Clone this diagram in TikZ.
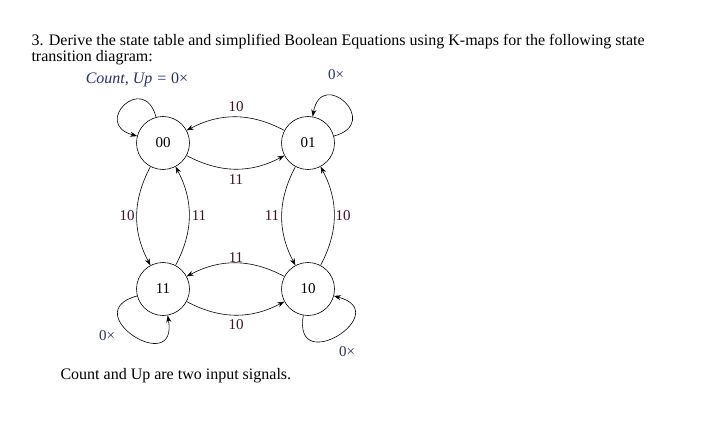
\documentclass[tikz,border=0pt]{standalone}
\usepackage{fontspec}
\setmainfont{Liberation Serif}
\usetikzlibrary{arrows.meta}
\definecolor{lbl}{RGB}{60,20,40}
\definecolor{blu}{RGB}{40,50,100}
\begin{document}
\begin{tikzpicture}[x=1pt,y=-1pt,
  st/.style={circle,draw,semithick,minimum size=53pt,inner sep=0pt,font=\fontsize{15}{17}\selectfont},
  tr/.style={-{Stealth[length=7pt,width=5pt]},semithick,bend right=28},
  lp/.style={-{Stealth[length=7pt,width=5pt]},semithick,looseness=4.5},
  lb/.style={text=lbl,font=\fontsize{15}{17}\selectfont},
  ox/.style={text=blu,font=\fontsize{15}{17}\selectfont}]
\fill[white] (0,0) rectangle (718,425);
\useasboundingbox (0,0) rectangle (718,425);
\node[anchor=west,font=\fontsize{16}{18}\selectfont] (t1) at (28,42) {3. Derive the state table and simplified Boolean Equations using K-maps for the following state};
\node[anchor=west,font=\fontsize{16}{18}\selectfont] (t2) at (28,58) {transition diagram:};
\node[st] (n00) at (163,143) {00};
\node[st] (n01) at (308,143) {01};
\node[st] (n11) at (163,289) {11};
\node[st] (n10) at (308,289) {10};
\draw[tr] (n01) to (n00);
\draw[tr] (n00) to (n01);
\draw[tr] (n00) to (n11);
\draw[tr] (n11) to (n00);
\draw[tr] (n01) to (n10);
\draw[tr] (n10) to (n01);
\draw[tr] (n10) to (n11);
\draw[tr] (n11) to (n10);
\draw[lp] (n00) to[out=105,in=165] (n00);
\draw[lp] (n01) to[out=15,in=80] (n01);
\draw[lp] (n11) to[out=195,in=280] (n11);
\draw[lp] (n10) to[out=260,in=-15] (n10);
\node[lb] (a1) at (236,107) {10};
\node[lb] (a2) at (236,180) {11};
\node[lb] (a3) at (127,216) {10};
\node[lb] (a4) at (199,216) {11};
\node[lb] (a5) at (272,216) {11};
\node[lb] (a6) at (343,216) {10};
\node[lb] (a7) at (236,258) {11};
\node[lb] (a8) at (236,325) {10};
\node[ox,font=\fontsize{16}{18}\selectfont\itshape] (c) at (137,80) {Count, Up = \upshape0×};
\node[ox] (o1) at (336,75) {0×};
\node[ox] (o2) at (107,336) {0×};
\node[ox] (o3) at (347,352) {0×};
\node[anchor=west,font=\fontsize{16}{18}\selectfont] (t3) at (57,376) {Count and Up are two input signals.};
\end{tikzpicture}
\end{document}
